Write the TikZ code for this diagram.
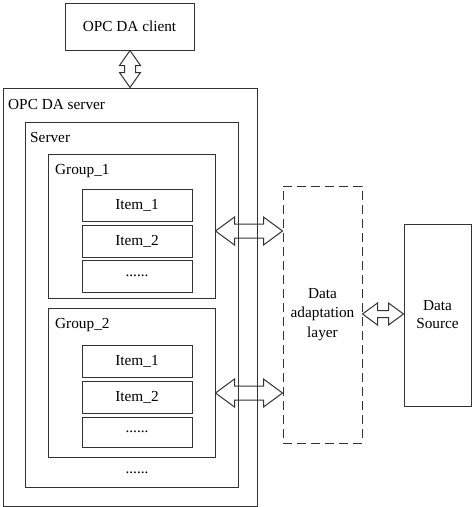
\documentclass[tikz,border=0pt]{standalone}
\usepackage{fontspec}
\setmainfont{Liberation Serif}
\usetikzlibrary{calc}
\tikzset{
  box/.style={draw=black!80, line width=1pt, fill=white, inner sep=0pt, minimum width=#1},
  itembox/.style={draw=black!80, line width=1pt, fill=white, inner sep=0pt, minimum width=110pt, minimum height=32pt},
  lbl/.style={inner sep=0pt, anchor=west},
  dbl/.style={draw=black!80, line width=1pt, line join=miter},
}
\newcommand{\harr}[5]{%
  \draw[dbl] (#1) -- ($(#1)+(#5,#4)$) -- ($(#1)+(#5,#3)$) -- ($(#2)+(-#5,#3)$) -- ($(#2)+(-#5,#4)$) -- (#2)
  -- ($(#2)+(-#5,-#4)$) -- ($(#2)+(-#5,-#3)$) -- ($(#1)+(#5,-#3)$) -- ($(#1)+(#5,-#4)$) -- cycle;}
\newcommand{\varr}[5]{%
  \draw[dbl] (#1) -- ($(#1)+(#4,#5)$) -- ($(#1)+(#3,#5)$) -- ($(#2)+(#3,-#5)$) -- ($(#2)+(#4,-#5)$) -- (#2)
  -- ($(#2)+(-#4,-#5)$) -- ($(#2)+(-#3,-#5)$) -- ($(#1)+(-#3,#5)$) -- ($(#1)+(-#4,#5)$) -- cycle;}
\begin{document}
\begin{tikzpicture}[x=1pt,y=-1pt,font=\fontsize{15.3}{18}\selectfont]
\useasboundingbox (0,0) rectangle (474,507);
\node[box=129pt, minimum height=47pt] (client) at (129.5,26.5) {OPC DA client};
\node[box=254pt, minimum height=418pt] (opc) at (130,297) {};
\node[box=213pt, minimum height=365pt] (server) at (131.5,304.5) {};
\node[box=167pt, minimum height=144pt] (g1) at (131.5,226) {};
\node[box=167pt, minimum height=149pt] (g2) at (131.5,382.5) {};
\node[lbl] (opcl) at (8,105) {OPC DA server};
\node[lbl] (serverl) at (30,138) {Server};
\node[lbl] (g1l) at (55,171) {Group\_1};
\node[lbl] (g2l) at (55,325) {Group\_2};
\node[itembox] (a1) at (137,205.5) {Item\_1};
\node[itembox] (a2) at (137,241) {Item\_2};
\node[itembox] (a3) at (137,276) {......};
\node[itembox] (b1) at (137,361.5) {Item\_1};
\node[itembox] (b2) at (137,397.5) {Item\_2};
\node[itembox, minimum height=30pt] (b3) at (137,432) {......};
\node[inner sep=0pt] (sdots) at (137,473) {......};
\node[draw=black!80, line width=1pt, dash pattern=on 9pt off 5pt, minimum width=79pt, minimum height=257pt, inner sep=0pt,
  align=center, font=\fontsize{15.3}{19.5}\selectfont] (dal) at (322.5,314.5) {Data\\adaptation\\layer};
\node[box=67pt, minimum height=182pt, align=center, font=\fontsize{15.3}{18}\selectfont] (ds) at (437.5,315) {Data\\Source};
\coordinate (t1) at (g1.east |- 0,231);
\coordinate (t2) at (dal.west |- 0,231);
\coordinate (u1) at (g2.east |- 0,393);
\coordinate (u2) at (dal.west |- 0,393);
\coordinate (s1) at (dal.east |- 0,314);
\coordinate (s2) at (ds.west |- 0,314);
\coordinate (v1) at (client.south -| 130,0);
\coordinate (v2) at (opc.north -| 130,0);
\harr{t1}{t2}{7}{14}{19}
\harr{u1}{u2}{7}{14}{19}
\harr{s1}{s2}{3.5}{11}{15}
\varr{v1}{v2}{5.5}{10.5}{15}
\end{tikzpicture}
\end{document}
